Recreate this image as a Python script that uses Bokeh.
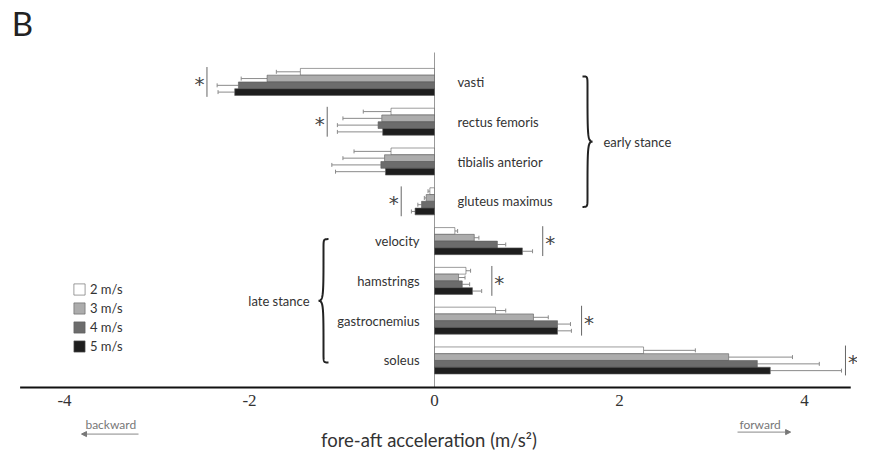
import numpy as np
from bokeh.plotting import figure
from bokeh.models import (ColumnDataSource, FixedTicker, LinearAxis, Range1d,
                          Legend, LegendItem, Arrow, NormalHead)
from bokeh.core.properties import value
from bokeh.embed import file_html
from bokeh.resources import INLINE

# ---------------- data ----------------
muscles = ["vasti", "rectus femoris", "tibialis anterior", "gluteus maximus",
           "velocity", "hamstrings", "gastrocnemius", "soleus"]
speeds = ["2 m/s", "3 m/s", "4 m/s", "5 m/s"]
acc_2 = [-1.45, -0.47, -0.47, -0.05, 0.22, 0.34, 0.66, 2.26]
acc_3 = [-1.81, -0.57, -0.54, -0.09, 0.43, 0.26, 1.07, 3.18]
acc_4 = [-2.12, -0.61, -0.58, -0.14, 0.68, 0.30, 1.33, 3.49]
acc_5 = [-2.16, -0.56, -0.53, -0.21, 0.95, 0.41, 1.33, 3.63]
err_2 = [0.26, 0.30, 0.40, 0.02, 0.03, 0.05, 0.11, 0.56]
err_3 = [0.28, 0.42, 0.45, 0.02, 0.05, 0.07, 0.16, 0.69]
err_4 = [0.23, 0.44, 0.53, 0.04, 0.09, 0.08, 0.14, 0.67]
err_5 = [0.18, 0.49, 0.54, 0.04, 0.11, 0.10, 0.15, 0.77]
significant = [True, True, False, True, True, True, True, True]
early_stance = muscles[:4]
late_stance = muscles[4:]
x_ticks = [-4, -2, 0, 2, 4]
x_tick_labels = {-4: "-4", -2: "-2", 0: "0", 2: "2", 4: "4"}

values = [acc_2, acc_3, acc_4, acc_5]
errors = [err_2, err_3, err_4, err_5]
colors = ["#ffffff", "#acacac", "#6c6c6c", "#1e1e1e"]
offsets = [0.255, 0.085, -0.085, -0.255]
bar_h = 0.17

pos = np.arange(len(muscles))[::-1].astype(float)   # vasti on top

FONT = "Lato"
X0, X1 = -4.692, 4.573

p = figure(width=857, height=455, output_backend="svg", toolbar_location=None,
           x_range=Range1d(X0, X1), y_range=Range1d(-2.388, 9.047),
           x_axis_type=None, y_axis_type=None, min_border=0,
           outline_line_color=None)
p.grid.visible = False

AXIS_Y = -0.679

# zero line
p.segment(x0=[0], x1=[0], y0=[AXIS_Y], y1=[7.74], line_color="#9a9a9a", line_width=1)

renderers = []
for i in range(4):
    v = np.array(values[i], dtype=float)
    e = np.array(errors[i], dtype=float)
    y = pos + offsets[i]
    end = v + np.sign(v) * e
    src = ColumnDataSource(dict(y=y, right=v, end=end, cap0=y - 0.05, cap1=y + 0.05))
    p.segment(x0="right", x1="end", y0="y", y1="y", source=src,
              line_color="#8a8a8a", line_width=1)
    p.segment(x0="end", x1="end", y0="cap0", y1="cap1", source=src,
              line_color="#8a8a8a", line_width=1)
    r = p.hbar(y="y", height=bar_h, left=0, right="right", source=src,
               fill_color=colors[i], line_color="#5a5a5a", line_width=0.6)
    renderers.append(r)

# significance markers
all_v = np.array(values)
all_e = np.array(errors)
ext = all_v + np.sign(all_v) * all_e
sx, sy, ax, ay = [], [], [], []
for k, m in enumerate(muscles):
    if not significant[k]:
        continue
    sgn = np.sign(all_v[:, k].mean())
    far = ext[:, k].max() if sgn > 0 else ext[:, k].min()
    lx = min(far + sgn * 0.11, X1 - 0.13)
    sx.append(lx); sy.append(pos[k])
    ax.append(lx + sgn * 0.08); ay.append(pos[k])
sx = np.array(sx); sy = np.array(sy)
p.segment(x0=sx, x1=sx, y0=sy - 0.375, y1=sy + 0.375, line_color="#666666", line_width=1)
p.text(x=ax, y=np.array(ay) - 0.05, text=["*"] * len(ax), text_align="center",
       text_baseline="middle", text_font=value("DejaVu Sans"), text_font_size="20px",
       text_color="#444444")

# muscle labels
early_idx = [muscles.index(m) for m in early_stance]
late_idx = [muscles.index(m) for m in late_stance]
p.text(x=[0.249] * len(early_idx), y=pos[early_idx], text=early_stance,
       text_align="left", text_baseline="middle", text_font=value(FONT),
       text_font_size="13px", text_color="#333333")
p.text(x=[-0.162] * len(late_idx), y=pos[late_idx], text=late_stance,
       text_align="right", text_baseline="middle", text_font=value(FONT),
       text_font_size="13px", text_color="#333333")

# braces
def brace(x_back, x_tip, ymid, half):
    xm = (x_back + x_tip) / 2.0
    t = np.linspace(0, 1, 30)
    def bez(p0, p1, p2, p3):
        return ((1 - t) ** 3)[:, None] * p0 + (3 * (1 - t) ** 2 * t)[:, None] * p1 + \
               (3 * (1 - t) * t ** 2)[:, None] * p2 + (t ** 3)[:, None] * p3
    P = lambda a, b: np.array([a, b])
    d = 0.25
    segs = [
        bez(P(x_back, ymid + half), P(xm, ymid + half), P(xm, ymid + half), P(xm, ymid + half - d)),
        bez(P(xm, ymid + half - d), P(xm, ymid + d * 0.6), P(xm, ymid), P(x_tip, ymid)),
        bez(P(x_tip, ymid), P(xm, ymid), P(xm, ymid - d * 0.6), P(xm, ymid - half + d)),
        bez(P(xm, ymid - half + d), P(xm, ymid - half), P(xm, ymid - half), P(x_back, ymid - half)),
    ]
    pts = np.vstack(segs)
    return pts[:, 0], pts[:, 1]

ymid_e = pos[early_idx].mean()
ymid_l = pos[late_idx].mean()
bx, by = brace(1.60, 1.708, ymid_e, 1.64)
p.line(bx, by, line_color="#222222", line_width=2)
bx, by = brace(-1.146, -1.254, ymid_l, 1.55)
p.line(bx, by, line_color="#222222", line_width=2)
p.text(x=[1.827], y=[ymid_e], text=["early stance"], text_align="left",
       text_baseline="middle", text_font=value(FONT), text_font_size="13px",
       text_color="#333333")
p.text(x=[-1.351], y=[ymid_l], text=["late stance"], text_align="right",
       text_baseline="middle", text_font=value(FONT), text_font_size="13px",
       text_color="#333333")

# panel letter
p.text(x=[-4.57], y=[8.47], text=["B"], text_align="left", text_baseline="alphabetic",
       text_font=value(FONT), text_font_size="33px", text_color="#222222")

# direction hints
p.text(x=[-3.50, 3.52], y=[-1.61, -1.61], text=["backward", "forward"],
       text_align="center", text_baseline="alphabetic", text_font=value(FONT),
       text_font_size="12px", text_color="#777777")
p.add_layout(Arrow(end=NormalHead(size=5, fill_color="#777777", line_color="#777777"),
                   x_start=-3.2, x_end=-3.816, y_start=-1.85, y_end=-1.85,
                   line_color="#888888", line_width=1))
p.add_layout(Arrow(end=NormalHead(size=5, fill_color="#777777", line_color="#777777"),
                   x_start=3.276, x_end=3.85, y_start=-1.80, y_end=-1.80,
                   line_color="#888888", line_width=1))

# x axis line (drawn shorter than frame as in the reference)
p.segment(x0=[-4.48], x1=[4.50], y0=[AXIS_Y], y1=[AXIS_Y], line_color="#111111", line_width=2)

xaxis = LinearAxis(fixed_location=AXIS_Y, ticker=FixedTicker(ticks=x_ticks),
                   axis_label="fore-aft acceleration (m/s²)")
xaxis.major_label_overrides = x_tick_labels
xaxis.axis_line_color = None
xaxis.major_tick_line_color = None
xaxis.minor_tick_line_color = None
xaxis.major_label_text_font = "Liberation Sans Narrow"
xaxis.major_label_text_font_size = "17px"
xaxis.major_label_text_color = "#333333"
xaxis.major_label_standoff = 2
xaxis.axis_label_text_font = FONT
xaxis.axis_label_text_font_style = "normal"
xaxis.axis_label_text_font_size = "18.5px"
xaxis.axis_label_text_color = "#333333"
xaxis.axis_label_standoff = 19
p.add_layout(xaxis, "below")

legend = Legend(items=[LegendItem(label=s, renderers=[r]) for s, r in zip(speeds, renderers)],
                location=(72, 101), glyph_width=14, glyph_height=14, label_height=14,
                spacing=3, padding=0, margin=0, label_standoff=4,
                label_text_font=FONT, label_text_font_size="13px",
                label_text_color="#333333", border_line_color=None,
                background_fill_alpha=0)
p.add_layout(legend)

open("out.html", "w").write(file_html(p, INLINE))
